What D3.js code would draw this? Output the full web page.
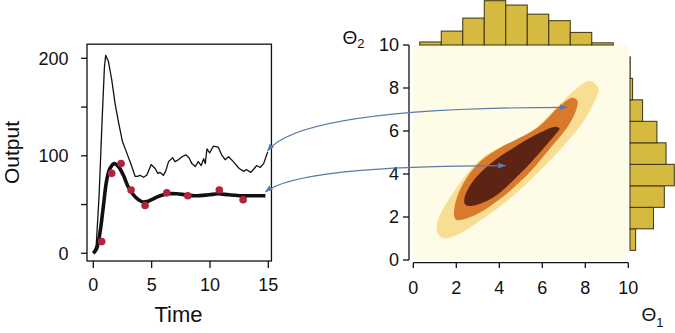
<!DOCTYPE html>
<html>
<head>
<meta charset="utf-8">
<script src="https://cdn.jsdelivr.net/npm/d3@7"></script>
<style>
  body { margin: 0; background: #fff; }
  text { font-family: "Liberation Sans", Arial, Helvetica, sans-serif; fill: #111; }
</style>
</head>
<body>
<svg width="675" height="333"></svg>
<script>
// LEFT PANEL DATA
const simTime = [0, 0.25, 0.5, 0.75, 0.95, 1.06, 1.29, 1.58, 1.86, 2.15, 2.49, 2.87, 3.3, 3.58, 3.78, 4.0, 4.3, 4.58, 4.96, 5.3, 5.53, 5.73, 6.0, 6.2, 6.45, 6.8, 7.0, 7.3, 7.6, 7.94, 8.2, 8.45, 8.74, 9.0, 9.25, 9.46, 9.6, 9.74, 9.97, 10.3, 10.7, 11.0, 11.3, 11.6, 12.0, 12.5, 12.9, 13.1, 13.5, 13.8, 14.0, 14.3, 14.6, 14.95];
const simValue = [0, 8, 60, 135, 190, 203, 197, 178, 154, 135, 115, 103, 89, 79, 79, 80, 78, 80, 91, 87, 82, 83, 80, 84, 94, 98, 94, 96, 99, 101, 98, 92, 89, 94, 90, 97, 92, 107, 103, 110, 109, 101, 96, 99, 94, 87, 84, 86, 83, 87, 90, 88, 92, 104];

const fitTime = [0, 0.29, 0.57, 0.86, 1.15, 1.43, 1.8, 2.15, 2.58, 3.0, 3.58, 4.15, 4.58, 5.0, 5.73, 6.45, 7.16, 7.9, 8.74, 9.9, 10.7, 11.6, 12.75, 13.6, 14.75];
const fitValue = [0, 5, 21, 48, 75, 87, 92, 89, 80, 68, 58, 53, 53, 55, 59, 61, 61, 60, 59, 60, 61, 60, 59, 59, 59];

const obsTime = [0.72, 1.58, 2.38, 3.24, 4.44, 6.3, 8.1, 10.8, 12.84];
const obsValue = [12, 82, 92, 65, 49, 62, 59, 65, 55];

const outTicksX = [0, 5, 10, 15];
const outTicksY = [0, 50, 100, 150, 200];
const outLabelsY = [0, 100, 200];

// RIGHT PANEL DATA
const theta1Edges = [0.3, 1.3, 2.3, 3.3, 4.3, 5.3, 6.3, 7.3, 8.3, 9.3];
const theta1Counts = [7, 32, 62, 102, 92, 71, 56, 29, 5];
const theta2Edges = [0.45, 1.45, 2.45, 3.45, 4.45, 5.45, 6.45, 7.45, 8.45, 9.45];
const theta2Counts = [13, 54, 79, 102, 83, 62, 29, 6, 0.6];

const contourOuter = [[1.17,1.16],[1.48,1.01],[2.1,1.2],[3.03,1.78],[4.12,2.56],[5.21,3.49],[6.3,4.57],[7.23,5.58],[8.01,6.59],[8.56,7.67],[8.63,7.95],[8.25,8.33],[7.7,8.06],[6.77,7.2],[5.68,6.12],[4.59,5.43],[3.5,4.96],[2.57,4.11],[1.79,3.02],[1.24,2.09],[1.09,1.55]];
const contourMid = [[2.02,1.86],[2.88,2.09],[3.97,2.79],[5.21,3.87],[6.3,5.12],[7.23,6.28],[7.62,7.13],[7.62,7.44],[7.39,7.55],[6.77,7.13],[5.83,6.2],[4.9,5.66],[3.97,5.19],[3.19,4.65],[2.57,3.95],[2.1,3.1],[1.91,2.4],[1.91,2.01]];
const contourInner = [[2.38,2.64],[2.57,2.51],[3.66,2.87],[4.9,3.95],[5.99,5.12],[6.69,5.94],[6.8,6.12],[6.61,6.2],[5.83,5.89],[4.74,5.27],[3.66,4.54],[2.88,3.8],[2.45,3.1],[2.37,2.79]];

const thetaTicks = [0, 2, 4, 6, 8, 10];

// arrows: [time, output] -> [theta1, theta2]
const linkFrom = [[14.93, 105], [14.76, 63]];
const linkTo = [[7.16, 7.1], [4.28, 4.39]];

const svg = d3.select("svg");
const ink = "#111";
const tickFont = 18;

//LEFT SCALES
const xOut = d3.scaleLinear().domain([0, 15]).range([93.3, 268.3]);
const yOut = d3.scaleLinear().domain([0, 200]).range([253.3, 58.3]);

svg.append("rect")
  .attr("x", xOut(-0.54)).attr("y", yOut(214.5))
  .attr("width", xOut(15.27) - xOut(-0.54))
  .attr("height", yOut(-7.9) - yOut(214.5))
  .attr("fill", "none").attr("stroke", ink).attr("stroke-width", 1.3);

const leftAxis = svg.append("g");
leftAxis.selectAll("line.yt").data(outTicksY).enter().append("line")
  .attr("x1", xOut(-0.54) - 6).attr("x2", xOut(-0.54))
  .attr("y1", (d) => yOut(d)).attr("y2", (d) => yOut(d))
  .attr("stroke", ink).attr("stroke-width", 1.3);
leftAxis.selectAll("text.yl").data(outLabelsY).enter().append("text")
  .attr("x", 68.5).attr("y", (d) => yOut(d) + 6.3)
  .attr("text-anchor", "end").attr("font-size", tickFont)
  .text((d) => d);
leftAxis.selectAll("line.xt").data(outTicksX).enter().append("line")
  .attr("x1", (d) => xOut(d)).attr("x2", (d) => xOut(d))
  .attr("y1", yOut(-7.9)).attr("y2", yOut(-7.9) + 7)
  .attr("stroke", ink).attr("stroke-width", 1.3);
leftAxis.selectAll("text.xl").data(outTicksX).enter().append("text")
  .attr("x", (d) => xOut(d)).attr("y", 290.5)
  .attr("text-anchor", "middle").attr("font-size", tickFont)
  .text((d) => d);

svg.append("text").attr("x", 178.5).attr("y", 321.7)
  .attr("text-anchor", "middle").attr("font-size", 22).text("Time");
svg.append("text")
  .attr("transform", "translate(18.5,152.5) rotate(-90)")
  .attr("text-anchor", "middle").attr("font-size", 21).text("Output");

//LINES
const simLine = d3.line().x((d, i) => xOut(simTime[i])).y((d) => yOut(d));
svg.append("path").datum(simValue).attr("d", simLine)
  .attr("fill", "none").attr("stroke", ink).attr("stroke-width", 1.3)
  .attr("stroke-linejoin", "round");

const fitLine = d3.line().curve(d3.curveCatmullRom)
  .x((d, i) => xOut(fitTime[i])).y((d) => yOut(d));
svg.append("path").datum(fitValue).attr("d", fitLine)
  .attr("fill", "none").attr("stroke", ink).attr("stroke-width", 3.6)
  .attr("stroke-linejoin", "round");

svg.selectAll("circle.obs").data(obsValue).enter().append("circle")
  .attr("class", "obs")
  .attr("cx", (d, i) => xOut(obsTime[i])).attr("cy", (d) => yOut(d))
  .attr("r", 3.8).attr("fill", "#b3233f");

//RIGHT SCALES
const xTh = d3.scaleLinear().domain([0, 10]).range([413.3, 628.3]);
const yTh = d3.scaleLinear().domain([0, 10]).range([260, 45]);
const hScale = d3.scaleLinear().domain([0, 102]).range([0, 44.3]);

svg.append("rect")
  .attr("x", xTh(0)).attr("y", yTh(10))
  .attr("width", xTh(10) - xTh(0)).attr("height", yTh(0) - yTh(10))
  .attr("fill", "#fefbe6");

const contourLine = d3.line().curve(d3.curveCatmullRomClosed.alpha(0.5))
  .x((d) => xTh(d[0])).y((d) => yTh(d[1]));
[[contourOuter, "#f7de93"], [contourMid, "#d8792c"], [contourInner, "#5d2414"]]
  .forEach(([pts, col]) => {
    svg.append("path").datum(pts).attr("d", contourLine).attr("fill", col);
  });

// histograms
const histFill = "#d5ba3f";
const histStroke = "#3b3212";
svg.selectAll("rect.h1").data(theta1Counts).enter().append("rect")
  .attr("x", (d, i) => xTh(theta1Edges[i]))
  .attr("width", (d, i) => xTh(theta1Edges[i + 1]) - xTh(theta1Edges[i]))
  .attr("y", (d) => yTh(10) - hScale(d))
  .attr("height", (d) => hScale(d))
  .attr("fill", histFill).attr("stroke", histStroke).attr("stroke-width", 1);
svg.selectAll("rect.h2").data(theta2Counts).enter().append("rect")
  .attr("x", 630)
  .attr("y", (d, i) => yTh(theta2Edges[i + 1]))
  .attr("height", (d, i) => yTh(theta2Edges[i]) - yTh(theta2Edges[i + 1]))
  .attr("width", (d) => hScale(d))
  .attr("fill", histFill).attr("stroke", histStroke).attr("stroke-width", 1);

// axes (R style, detached)
const rAxis = svg.append("g");
rAxis.append("line").attr("x1", 409).attr("x2", 409)
  .attr("y1", yTh(0)).attr("y2", yTh(10)).attr("stroke", ink).attr("stroke-width", 1.3);
rAxis.selectAll("line.yt").data(thetaTicks).enter().append("line")
  .attr("x1", 403).attr("x2", 409)
  .attr("y1", (d) => yTh(d)).attr("y2", (d) => yTh(d))
  .attr("stroke", ink).attr("stroke-width", 1.3);
rAxis.selectAll("text.yl").data(thetaTicks).enter().append("text")
  .attr("x", 399).attr("y", (d) => yTh(d) + 6.3)
  .attr("text-anchor", "end").attr("font-size", tickFont).text((d) => d);
rAxis.append("line").attr("x1", xTh(0)).attr("x2", xTh(10))
  .attr("y1", 262.7).attr("y2", 262.7).attr("stroke", ink).attr("stroke-width", 1.3);
rAxis.selectAll("line.xt").data(thetaTicks).enter().append("line")
  .attr("x1", (d) => xTh(d)).attr("x2", (d) => xTh(d))
  .attr("y1", 262.7).attr("y2", 268)
  .attr("stroke", ink).attr("stroke-width", 1.3);
rAxis.selectAll("text.xl").data(thetaTicks).enter().append("text")
  .attr("x", (d) => xTh(d)).attr("y", 293.5)
  .attr("text-anchor", "middle").attr("font-size", tickFont).text((d) => d);

const t2 = svg.append("text").attr("x", 342.5).attr("y", 44).attr("font-size", 19);
t2.append("tspan").text("\u0398");
t2.append("tspan").attr("font-size", 13).attr("dy", 3.5).text("2");
const t1 = svg.append("text").attr("x", 641.5).attr("y", 320.7).attr("font-size", 19);
t1.append("tspan").text("\u0398");
t1.append("tspan").attr("font-size", 13).attr("dy", 6).text("1");

//ARROWS
const arrowColor = "#5a7ca6";
svg.append("defs").append("marker")
  .attr("id", "head").attr("viewBox", "0 0 10 10")
  .attr("refX", 9).attr("refY", 5)
  .attr("markerWidth", 8).attr("markerHeight", 8)
  .attr("markerUnits", "userSpaceOnUse")
  .attr("orient", "auto-start-reverse")
  .append("path").attr("d", "M0,1.5L10,5L0,8.5z").attr("fill", arrowColor);

linkFrom.forEach((src, i) => {
  const x0 = xOut(src[0]), y0 = yOut(src[1]);
  const x1 = xTh(linkTo[i][0]), y1 = yTh(linkTo[i][1]);
  const p = d3.path();
  p.moveTo(x0, y0);
  p.quadraticCurveTo(x0 + 34, y1, x1, y1);
  svg.append("path").attr("d", p.toString())
    .attr("fill", "none").attr("stroke", arrowColor).attr("stroke-width", 1.1)
    .attr("marker-start", "url(#head)").attr("marker-end", "url(#head)");
});
</script>
</body>
</html>
